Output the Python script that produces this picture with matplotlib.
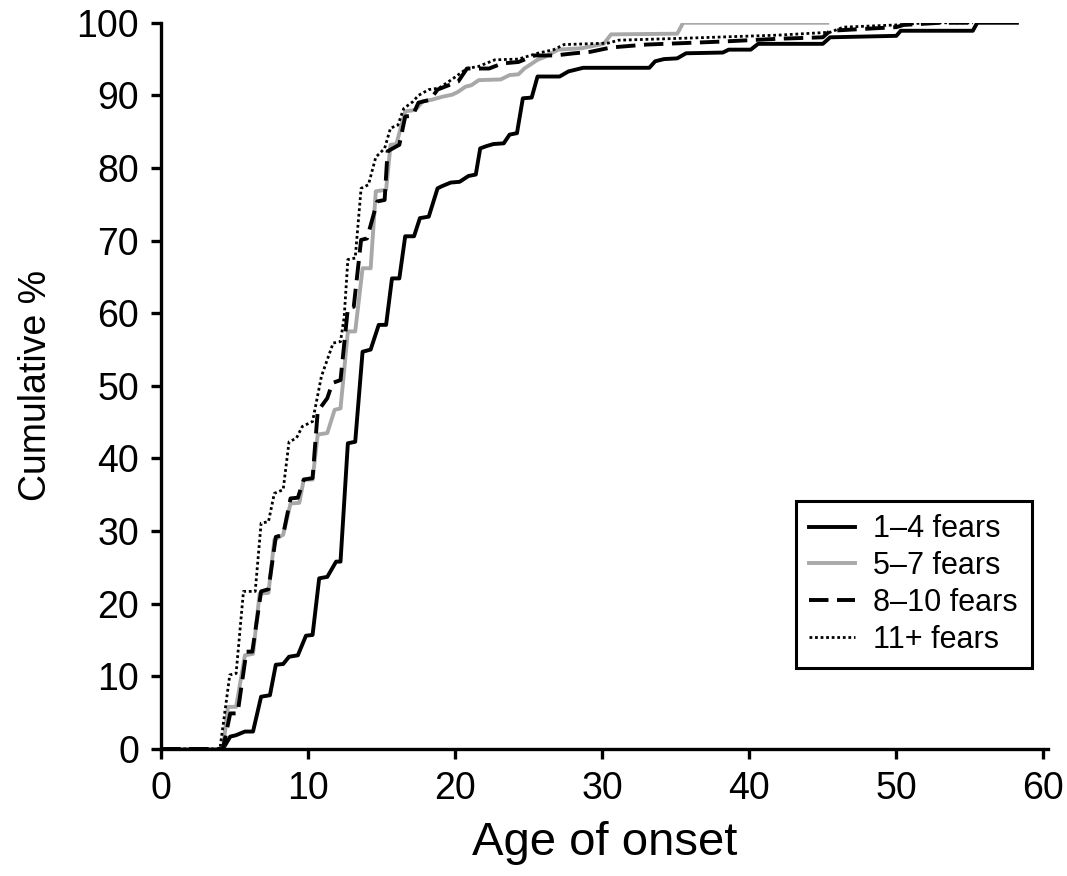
import matplotlib.pyplot as plt

plt.rcParams['font.family'] = ['Liberation Sans', 'DejaVu Sans']

# Idade de início (anos) e % acumulado
ages_1_4 = [0, 4.2, 4.7, 5.1, 5.7, 6.25, 6.8, 7.4, 7.8, 8.3, 8.7, 9.3, 9.85, 10.3,
            10.75, 11.3, 11.9, 12.2, 12.7, 13.2, 13.7, 14.25, 14.8, 15.3, 15.7, 16.2,
            16.6, 17.2, 17.6, 18.2, 18.8, 19.1, 19.7, 20.3, 20.9, 21.4, 21.7, 22.1,
            22.6, 23.3, 23.7, 24.2, 24.6, 25.2, 25.6, 27.1, 27.7, 28.1, 28.7, 33.2,
            33.6, 34.2, 35.1, 35.7, 38.2, 38.6, 40.1, 40.6, 45.0, 45.5, 50.0, 50.3,
            55.2, 55.5, 58.2]
pct_1_4 = [0, 0, 1.7, 1.9, 2.4, 2.4, 7.2, 7.4, 11.6, 11.7, 12.7, 12.9, 15.6, 15.7,
           23.5, 23.7, 25.8, 25.8, 42.1, 42.3, 54.7, 55.0, 58.4, 58.4, 64.8, 64.8,
           70.6, 70.6, 73.1, 73.3, 77.2, 77.5, 78.0, 78.1, 78.9, 79.1, 82.7, 83.0,
           83.3, 83.4, 84.6, 84.8, 89.6, 89.7, 92.6, 92.6, 93.3, 93.5, 93.8, 93.8,
           94.7, 95.0, 95.1, 95.8, 95.9, 96.3, 96.3, 97.1, 97.1, 98.0, 98.2, 98.9,
           98.9, 100, 100]

ages_5_7 = [0, 4.2, 4.55, 5.1, 5.7, 6.25, 6.7, 7.3, 7.7, 8.3, 8.8, 9.4, 9.7, 10.3,
            10.65, 11.3, 11.8, 12.2, 12.7, 13.2, 13.7, 14.25, 14.6, 15.3, 15.6, 16.0,
            16.6, 17.3, 17.8, 18.4, 19.1, 19.8, 20.2, 20.7, 21.1, 21.6, 23.1, 23.7,
            24.3, 24.7, 25.6, 26.1, 27.0, 28.6, 30.1, 30.6, 35.1, 35.5, 45.3]
pct_5_7 = [0, 0, 5.8, 5.8, 12.9, 13.1, 21.4, 21.5, 28.8, 29.5, 33.8, 33.9, 37.1, 37.1,
           43.3, 43.5, 46.7, 46.9, 57.5, 57.5, 66.2, 66.2, 76.8, 77.0, 83.2, 83.3,
           87.8, 88.0, 89.2, 89.4, 89.8, 90.1, 90.5, 91.2, 91.4, 92.1, 92.2, 92.8,
           92.9, 93.7, 94.9, 95.3, 96.3, 96.5, 97.1, 98.4, 98.5, 100, 100]

ages_8_10 = [0, 4.2, 4.7, 5.2, 5.8, 6.2, 6.8, 7.3, 7.8, 8.3, 8.8, 9.3, 9.7, 10.3,
             10.65, 11.3, 11.65, 12.2, 12.7, 13.1, 13.6, 14.0, 14.7, 15.2, 15.4, 16.2,
             16.6, 17.1, 17.5, 18.3, 18.8, 19.3, 20.2, 20.8, 22.3, 23.2, 24.3, 25.4,
             26.8, 28.1, 29.2, 30.6, 33.0, 38.0, 42.0, 45.0, 45.5, 50.0, 50.5, 53.0, 55.5]
pct_8_10 = [0, 0, 4.9, 4.9, 13.4, 13.4, 21.7, 22.0, 29.2, 29.5, 34.5, 34.6, 37.1, 37.3,
            46.5, 48.3, 50.4, 50.8, 60.7, 60.9, 70.1, 70.3, 75.4, 75.6, 82.3, 83.2,
            87.1, 87.2, 89.0, 89.4, 90.8, 91.2, 91.9, 93.7, 93.7, 94.4, 94.6, 95.5,
            95.5, 95.8, 96.0, 96.6, 97.0, 97.4, 97.8, 98.0, 98.9, 99.4, 99.7, 100, 100]

ages_11 = [0, 4.0, 4.67, 5.1, 5.6, 6.4, 6.8, 7.3, 7.7, 8.3, 8.7, 9.2, 9.6, 10.3,
           10.9, 11.7, 12.2, 12.45, 12.7, 13.2, 13.6, 14.1, 14.6, 15.2, 15.6, 16.1,
           16.5, 17.1, 17.5, 18.2, 18.9, 19.7, 20.8, 21.6, 22.7, 24.3, 25.6, 26.7,
           27.4, 30.4, 31.1, 36.0, 42.0, 45.5, 46.4, 50.0, 52.0, 55.2]
pct_11 = [0, 0, 10.2, 10.4, 21.7, 21.7, 31.1, 31.3, 35.2, 35.7, 42.3, 42.8, 44.4, 45.1,
          51.3, 55.9, 56.1, 59.5, 67.4, 67.6, 77.2, 77.7, 81.5, 82.7, 85.5, 85.9,
          88.2, 89.1, 90.0, 90.8, 91.0, 92.1, 93.7, 94.0, 94.9, 95.0, 95.8, 96.3,
          97.0, 97.2, 97.6, 97.9, 98.3, 98.7, 99.4, 99.7, 100, 100]

fig = plt.figure(figsize=(10.67, 8.76), dpi=100)
ax = fig.add_axes([0.151, 0.145, 0.831, 0.829])

ax.plot(ages_1_4, pct_1_4, color='black', lw=2.8, label='1–4 fears')
ax.plot(ages_5_7, pct_5_7, color='#a8a8a8', lw=2.8, label='5–7 fears')
ax.plot(ages_8_10, pct_8_10, color='black', lw=2.8, dashes=(5, 2.2), label='8–10 fears')
ax.plot(ages_11, pct_11, color='black', lw=2.0, linestyle=(0, (1, 1)), label='11+ fears')

ax.set_xlim(0, 60.3)
ax.set_ylim(0, 100)
ax.set_xticks(range(0, 61, 10))
ax.set_yticks(range(0, 101, 10))

for s in ['top', 'right']:
    ax.spines[s].set_visible(False)
for s in ['left', 'bottom']:
    ax.spines[s].set_linewidth(2.4)
ax.tick_params(width=2.4, length=7, labelsize=27, pad=9)

ax.set_xlabel('Age of onset', fontsize=34, labelpad=10)
ax.set_ylabel('Cumulative %', fontsize=27, labelpad=16)

leg = ax.legend(loc='lower right', bbox_to_anchor=(0.982, 0.111), fontsize=22,
                fancybox=False, framealpha=1, edgecolor='black',
                handlelength=1.5, handletextpad=0.6, labelspacing=0.22,
                borderpad=0.45, borderaxespad=0)
leg.get_frame().set_linewidth(2.2)

plt.savefig('out.png')
